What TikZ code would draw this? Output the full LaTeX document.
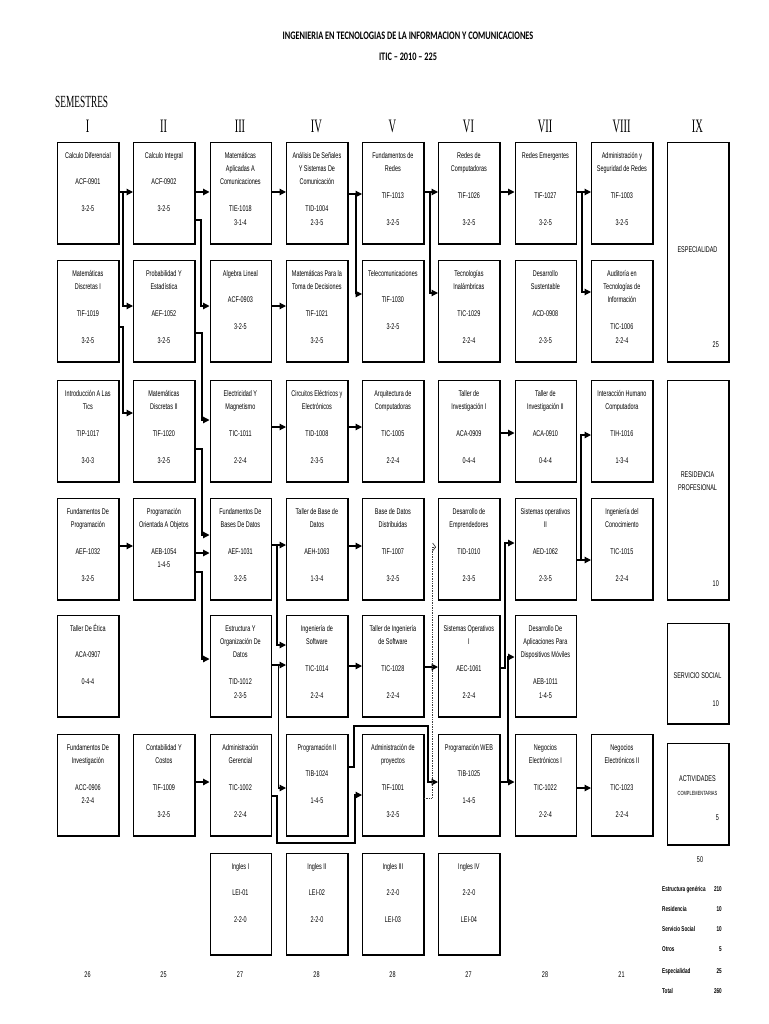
\documentclass[tikz,border=0pt]{standalone}
\usepackage{fontspec}
\setmainfont{Liberation Sans}
\newfontfamily\narrowf[FakeStretch=0.66]{Liberation Sans}
\newfontfamily\titlef[FakeStretch=0.72]{Carlito}
\newfontfamily\serf[FakeStretch=0.55]{Liberation Serif}
\usetikzlibrary{arrows.meta}
\tikzset{
  box/.style={draw, line width=0.8pt, anchor=north west, minimum width=61pt, minimum height=101pt, inner sep=0pt},
  edgetwo/.style={line width=1.5pt},
  btxt/.style={anchor=north, align=center, inner sep=0pt, font=\narrowf\fontsize{8.3}{13.4}\selectfont},
  arr/.style={line width=1.2pt, -{Triangle[length=6.5pt,width=6.5pt]}},
  dotarr/.style={line width=0.7pt, densely dotted, black!75, shorten >=2pt, -{Straight Barb[length=3pt,width=8pt]}},
  numtxt/.style={font=\narrowf\fontsize{8.3}{9}\selectfont, anchor=base, inner sep=0pt},
  sumtxt/.style={font=\narrowf\bfseries\fontsize{7}{8}\selectfont, inner sep=0pt},
  roman/.style={font=\serf\fontsize{19}{19}\selectfont, anchor=base, inner sep=0pt}
}
\newcommand\blk{\\[13.4pt]}
\newcommand\blkk{\\[26.8pt]}
\newcommand\crs[4]{%
  \node[box] (#1) at (#2,#3) {};
  \draw[edgetwo] (#1.north east) -- (#1.south east) -- (#1.south west);
  \node[btxt] (#1t) at ([yshift=-6.6pt]#1.north) {\strut #4};
}
\begin{document}
\begin{tikzpicture}[x=1pt,y=-1pt]
\fill[white] (0,0) rectangle (768,1024);
\useasboundingbox (0,0) rectangle (768,1024);

% titles
\node[font=\titlef\bfseries\fontsize{11.5}{12}\selectfont, inner sep=0pt] (title) at (408,36) {INGENIERIA EN TECNOLOGIAS DE LA INFORMACION Y COMUNICACIONES};
\node[font=\titlef\bfseries\fontsize{11.5}{12}\selectfont, inner sep=0pt] (subtitle) at (408,57) {ITIC – 2010 – 225};
\node[font=\serf\fontsize{17}{17}\selectfont, anchor=base west, inner sep=0pt] (sem) at (55,108) {SEMESTRES};
\node[roman] (r1) at (87.5,133) {I};
\node[roman] (r2) at (163.5,133) {II};
\node[roman] (r3) at (240,133) {III};
\node[roman] (r4) at (316.5,133) {IV};
\node[roman] (r5) at (392.5,133) {V};
\node[roman] (r6) at (468.5,133) {VI};
\node[roman] (r7) at (545,133) {VII};
\node[roman] (r8) at (621.5,133) {VIII};
\node[roman] (r9) at (697.5,133) {IX};

% row 1
\crs{n11}{57}{142}{Calculo Diferencial\blk ACF-0901\blk 3-2-5}
\crs{n21}{133}{142}{Calculo Integral\blk ACF-0902\blk 3-2-5}
\crs{n31}{209.5}{142}{Matemáticas\\Aplicadas A\\Comunicaciones\blk TIE-1018\\3-1-4}
\crs{n41}{286}{142}{Análisis De Señales\\Y Sistemas De\\Comunicación\blk TID-1004\\2-3-5}
\crs{n51}{362}{142}{Fundamentos de\\Redes\blk TIF-1013\blk 3-2-5}
\crs{n61}{438}{142}{Redes de\\Computadoras\blk TIF-1026\blk 3-2-5}
\crs{n71}{514.5}{142}{Redes Emergentes\blkk TIF-1027\blk 3-2-5}
\crs{n81}{591}{142}{Administración y\\Seguridad de Redes\blk TIF-1003\blk 3-2-5}
% row 2
\crs{n12}{57}{260}{Matemáticas\\Discretas I\blk TIF-1019\blk 3-2-5}
\crs{n22}{133}{260}{Probabilidad Y\\Estadística\blk AEF-1052\blk 3-2-5}
\crs{n32}{209.5}{260}{Algebra Lineal\blk ACF-0903\blk 3-2-5}
\crs{n42}{286}{260}{Matemáticas Para la\\Toma de Decisiones\blk TIF-1021\blk 3-2-5}
\crs{n52}{362}{260}{Telecomunicaciones\blk TIF-1030\blk 3-2-5}
\crs{n62}{438}{260}{Tecnologías\\Inalámbricas\blk TIC-1029\blk 2-2-4}
\crs{n72}{514.5}{260}{Desarrollo\\Sustentable\blk ACD-0908\blk 2-3-5}
\crs{n82}{591}{260}{Auditoría en\\Tecnologías de\\Información\blk TIC-1006\\2-2-4}
% row 3
\crs{n13}{57}{380}{Introducción A Las\\Tics\blk TIP-1017\blk 3-0-3}
\crs{n23}{133}{380}{Matemáticas\\Discretas II\blk TIF-1020\blk 3-2-5}
\crs{n33}{209.5}{380}{Electricidad Y\\Magnetismo\blk TIC-1011\blk 2-2-4}
\crs{n43}{286}{380}{Circuitos Eléctricos y\\Electrónicos\blk TID-1008\blk 2-3-5}
\crs{n53}{362}{380}{Arquitectura de\\Computadoras\blk TIC-1005\blk 2-2-4}
\crs{n63}{438}{380}{Taller de\\Investigación I\blk ACA-0909\blk 0-4-4}
\crs{n73}{514.5}{380}{Taller de\\Investigación II\blk ACA-0910\blk 0-4-4}
\crs{n83}{591}{380}{Interacción Humano\\Computadora\blk TIH-1016\blk 1-3-4}
% row 4
\crs{n14}{57}{498}{Fundamentos De\\Programación\blk AEF-1032\blk 3-2-5}
\crs{n24}{133}{498}{Programación\\Orientada A Objetos\blk AEB-1054\\1-4-5}
\crs{n34}{209.5}{498}{Fundamentos De\\Bases De Datos\blk AEF-1031\blk 3-2-5}
\crs{n44}{286}{498}{Taller de Base de\\Datos\blk AEH-1063\blk 1-3-4}
\crs{n54}{362}{498}{Base de Datos\\Distribuidas\blk TIF-1007\blk 3-2-5}
\crs{n64}{438}{498}{Desarrollo de\\Emprendedores\blk TID-1010\blk 2-3-5}
\crs{n74}{514.5}{498}{Sistemas operativos\\II\blk AED-1062\blk 2-3-5}
\crs{n84}{591}{498}{Ingeniería del\\Conocimiento\blk TIC-1015\blk 2-2-4}
% row 5
\crs{n15}{57}{615}{Taller De Ética\blk ACA-0907\blk 0-4-4}
\crs{n35}{209.5}{615}{Estructura Y\\Organización De\\Datos\blk TID-1012\\2-3-5}
\crs{n45}{286}{615}{Ingeniería de\\Software\blk TIC-1014\blk 2-2-4}
\crs{n55}{362}{615}{Taller de Ingeniería\\de Software\blk TIC-1028\blk 2-2-4}
\crs{n65}{438}{615}{Sistemas Operativos\\I\blk AEC-1061\blk 2-2-4}
\crs{n75}{514.5}{615}{Desarrollo De\\Aplicaciones Para\\Dispositivos Móviles\blk AEB-1011\\1-4-5}
% row 6
\crs{n16}{57}{734}{Fundamentos De\\Investigación\blk ACC-0906\\2-2-4}
\crs{n26}{133}{734}{Contabilidad Y\\Costos\blk TIF-1009\blk 3-2-5}
\crs{n36}{209.5}{734}{Administración\\Gerencial\blk TIC-1002\blk 2-2-4}
\crs{n46}{286}{734}{Programación II\blk TIB-1024\blk 1-4-5}
\crs{n56}{362}{734}{Administración de\\proyectos\blk TIF-1001\blk 3-2-5}
\crs{n66}{438}{734}{Programación WEB\blk TIB-1025\blk 1-4-5}
\crs{n76}{514.5}{734}{Negocios\\Electrónicos I\blk TIC-1022\blk 2-2-4}
\crs{n86}{591}{734}{Negocios\\Electrónicos II\blk TIC-1023\blk 2-2-4}
% row 7
\crs{n37}{209.5}{853}{Ingles I\blk LEI-01\blk 2-2-0}
\crs{n47}{286}{853}{Ingles II\blk LEI-02\blk 2-2-0}
\crs{n57}{362}{853}{Ingles III\blk 2-2-0\blk LEI-03}
\crs{n67}{438}{853}{Ingles IV\blk 2-2-0\blk LEI-04}

% column IX
\node[box, minimum height=219pt] (esp) at (667,142) {};
\draw[edgetwo] (esp.north east) -- (esp.south east) -- (esp.south west);
\node[btxt, anchor=center] (espt) at (697.5,250) {ESPECIALIDAD};
\node[numtxt, anchor=base east] (espn) at (719,347) {25};
\node[box, minimum height=219pt] (res) at (667,380) {};
\draw[edgetwo] (res.north east) -- (res.south east) -- (res.south west);
\node[btxt, anchor=center, font=\narrowf\fontsize{8.3}{13}\selectfont] (rest) at (697.5,481) {RESIDENCIA\\PROFESIONAL};
\node[numtxt, anchor=base east] (resn) at (719,586) {10};
\node[box, minimum height=100pt] (ser) at (667,623) {};
\draw[edgetwo] (ser.north east) -- (ser.south east) -- (ser.south west);
\node[btxt, anchor=center] (sert) at (697.5,676) {SERVICIO SOCIAL};
\node[numtxt, anchor=base east] (sern) at (719,706) {10};
\node[box, minimum height=101pt] (act) at (667,743) {};
\draw[edgetwo] (act.north east) -- (act.south east) -- (act.south west);
\node[btxt, anchor=center] (actt) at (697.5,779) {ACTIVIDADES};
\node[btxt, anchor=center, font=\narrowf\fontsize{6}{6}\selectfont] (actc) at (697.5,793) {COMPLEMENTARIAS};
\node[numtxt, anchor=base east] (actn) at (719,820) {5};
\node[numtxt] (fifty) at (700,862) {50};

% summary
\node[sumtxt, anchor=base west] (s1) at (662,891) {Estructura genérica};
\node[sumtxt, anchor=base east] (v1) at (722,891) {210};
\node[sumtxt, anchor=base west] (s2) at (662,911) {Residencia};
\node[sumtxt, anchor=base east] (v2) at (722,911) {10};
\node[sumtxt, anchor=base west] (s3) at (662,931) {Servicio Social};
\node[sumtxt, anchor=base east] (v3) at (722,931) {10};
\node[sumtxt, anchor=base west] (s4) at (662,951) {Otros};
\node[sumtxt, anchor=base east] (v4) at (722,951) {5};
\node[sumtxt, anchor=base west] (s5) at (662,973) {Especialidad};
\node[sumtxt, anchor=base east] (v5) at (722,973) {25};
\node[sumtxt, anchor=base west] (s6) at (662,993) {Total};
\node[sumtxt, anchor=base east] (v6) at (722,993) {260};

% credit totals
\node[numtxt] (t1) at (87.5,977) {26};
\node[numtxt] (t2) at (163.5,977) {25};
\node[numtxt] (t3) at (240,977) {27};
\node[numtxt] (t4) at (316.5,977) {28};
\node[numtxt] (t5) at (392.5,977) {28};
\node[numtxt] (t6) at (468.5,977) {27};
\node[numtxt] (t7) at (545,977) {28};
\node[numtxt] (t8) at (621.5,977) {21};

% connectors
\draw[arr] (n11.east |- 0,192) -- (n21.west |- 0,192);
\draw[arr] (n11.east |- 0,192) -- (123,192) -- (123,306) -- (n22.west |- 0,306);
\draw[arr] (n12.east |- 0,327) -- (123,327) -- (123,413) -- (n23.west |- 0,413);
\draw[arr] (n14.east |- 0,546) -- (n24.west |- 0,546);

\draw[arr] (n21.east |- 0,192) -- (n31.west |- 0,192);
\draw[arr] (n21.east |- 0,220) -- (201,220) -- (201,306) -- (n32.west |- 0,306);
\draw[arr] (n22.east |- 0,333) -- (202,333) -- (202,420) -- (n33.west |- 0,420);
\draw[arr] (n23.east |- 0,449) -- (202,449) -- (202,535) -- (n34.west |- 0,535);
\draw[arr] (n24.east |- 0,553) -- (n34.west |- 0,553);
\draw[arr] (n24.east |- 0,572) -- (202,572) -- (202,659) -- (n35.west |- 0,659);
\draw[arr] (n26.east |- 0,782) -- (n36.west |- 0,782);

\draw[arr] (n31.east |- 0,192) -- (n41.west |- 0,192);
\draw[arr] (n32.east |- 0,306) -- (n42.west |- 0,306);
\draw[arr] (n33.east |- 0,427) -- (n43.west |- 0,427);
\draw[arr] (n34.east |- 0,545) -- (n44.west |- 0,545);
\draw[arr] (n34.east |- 0,545) -- (277,545) -- (277,645) -- (n45.west |- 0,645);
\draw[arr] (n35.east |- 0,665) -- (n45.west |- 0,665);
\draw[arr] (n35.east |- 0,665) -- (278.5,665) -- (278.5,788) -- (n46.west |- 0,788);
\draw[arr] (n36.east |- 0,796) -- (277,796) -- (277,843) -- (355,843) -- (355,795) -- (n56.west |- 0,795);

\draw[arr] (n41.east |- 0,194) -- (n51.west |- 0,194);
\draw[arr] (n41.east |- 0,194) -- (356,194) -- (356,294) -- (n52.west |- 0,294);
\draw[arr] (n43.east |- 0,427) -- (n53.west |- 0,427);
\draw[arr] (n44.east |- 0,546) -- (n54.west |- 0,546);
\draw[arr] (n45.east |- 0,666) -- (n55.west |- 0,666);
\draw[arr] (n46.east |- 0,767) -- (354,767) -- (354,726) -- (428,726) -- (428,782) -- (n66.west |- 0,782);

\draw[arr] (n51.east |- 0,192) -- (n61.west |- 0,192);
\draw[arr] (n51.east |- 0,192) -- (430,192) -- (430,293) -- (n62.west |- 0,293);
\draw[arr] (n55.east |- 0,667) -- (n65.west |- 0,667);
\draw[dotarr] (n56.east |- 0,798) -- (432,798) -- (432,547) -- (n64.west |- 0,547);

\draw[arr] (n61.east |- 0,192) -- (n71.west |- 0,192);
\draw[arr] (n63.east |- 0,433) -- (n73.west |- 0,433);
\draw[arr] (n65.east |- 0,668) -- (505,668) -- (505,543) -- (n74.west |- 0,543);
\draw[arr] (n66.east |- 0,782) -- (508,782) -- (508,657) -- (n75.west |- 0,657);
\draw[arr] (n66.east |- 0,782) -- (n76.west |- 0,782);

\draw[arr] (n71.east |- 0,192) -- (n81.west |- 0,192);
\draw[arr] (n71.east |- 0,192) -- (582,192) -- (582,292) -- (n82.west |- 0,292);
\draw[arr] (n74.east |- 0,560) -- (n84.west |- 0,560);
\draw[arr] (n74.east |- 0,560) -- (581,560) -- (581,435) -- (n83.west |- 0,435);
\draw[arr] (n76.east |- 0,788) -- (n86.west |- 0,788);
\end{tikzpicture}
\end{document}
